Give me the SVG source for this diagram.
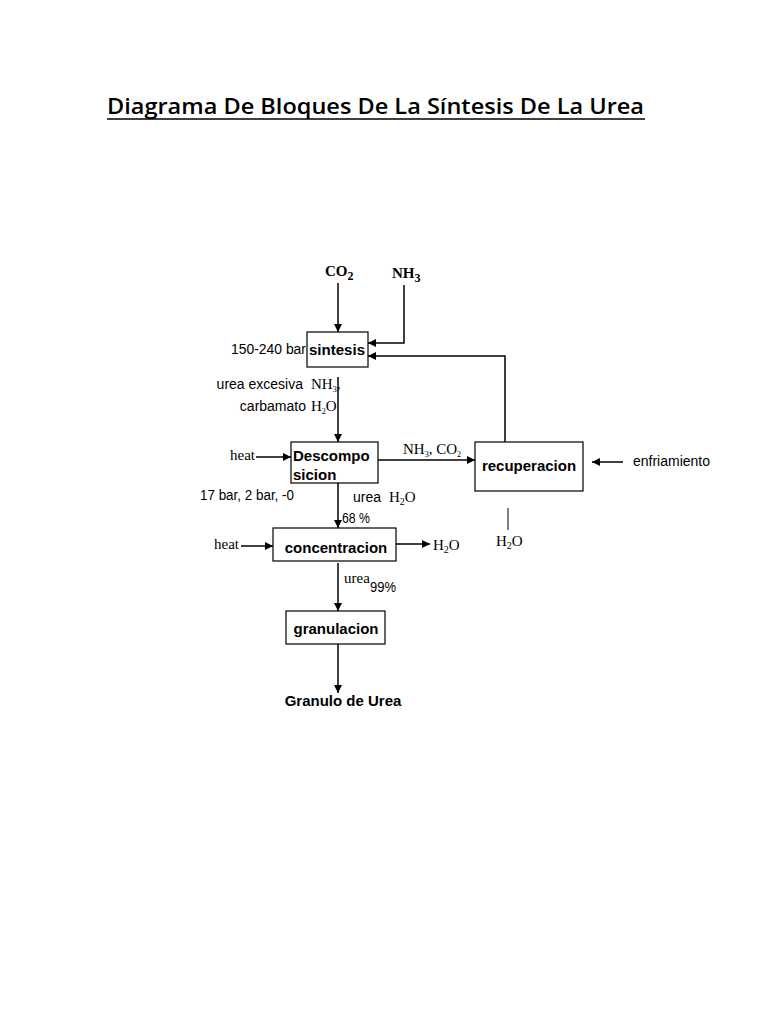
<svg xmlns="http://www.w3.org/2000/svg" width="768" height="1024" viewBox="0 0 768 1024">
<defs>
<marker id="ah" viewBox="0 0 10 10" refX="10" refY="5" markerWidth="8" markerHeight="8" markerUnits="userSpaceOnUse" orient="auto"><path d="M0,0 L10,5 L0,10 z" fill="#000"/></marker>
<style>
.box{fill:#fff;stroke:#000;stroke-width:1.2}
.lbl{font-family:"Liberation Sans",Arial,sans-serif;font-size:15px;font-weight:bold;fill:#000}
.s{font-family:"Liberation Sans",Arial,sans-serif;font-size:14px;fill:#000}
.t{font-family:"Liberation Serif","Times New Roman",serif;font-size:15px;fill:#000}
.con line,.con polyline{stroke:#000;stroke-width:1.5;fill:none}
</style>
</defs>
<rect width="768" height="1024" fill="#fff"/>
<text x="107" y="114" font-family="'Open Sans','Liberation Sans',sans-serif" font-size="22" font-weight="600" fill="#000" textLength="537" lengthAdjust="spacingAndGlyphs">Diagrama De Bloques De La Síntesis De La Urea</text>
<line x1="107" y1="119" x2="645" y2="119" stroke="#000" stroke-width="1.5"/>
<g class="con">
<line x1="338" y1="283" x2="338" y2="332" marker-end="url(#ah)"/>
<polyline points="404,285 404,343 368,343" marker-end="url(#ah)"/>
<polyline points="505,442 505,356 368,356" marker-end="url(#ah)"/>
<line x1="338" y1="377" x2="338" y2="442" marker-end="url(#ah)"/>
<line x1="256" y1="457" x2="291" y2="457" marker-end="url(#ah)"/>
<line x1="378" y1="460" x2="475" y2="460" marker-end="url(#ah)"/>
<line x1="623" y1="462" x2="592" y2="462" marker-end="url(#ah)"/>
<line x1="508" y1="508" x2="508" y2="530" style="stroke-width:1"/>
<line x1="338" y1="483" x2="338" y2="528" marker-end="url(#ah)"/>
<line x1="241" y1="546" x2="273" y2="546" marker-end="url(#ah)"/>
<line x1="396" y1="544" x2="430" y2="544" marker-end="url(#ah)"/>
<line x1="338" y1="563" x2="338" y2="611" marker-end="url(#ah)"/>
<line x1="338" y1="644" x2="338" y2="693" marker-end="url(#ah)"/>
</g>
<g id="sintesis"><rect class="box" x="307" y="332" width="61" height="35"/><text class="lbl" x="337" y="355" text-anchor="middle" textLength="56" lengthAdjust="spacingAndGlyphs">sintesis</text></g>
<g id="descomposicion"><rect class="box" x="291" y="442" width="87" height="41"/><text class="lbl" x="293" y="461">Descompo</text><text class="lbl" x="293" y="480">sicion</text></g>
<g id="recuperacion"><rect class="box" x="475" y="442" width="108" height="49"/><text class="lbl" x="529" y="471" text-anchor="middle">recuperacion</text></g>
<g id="concentracion"><rect class="box" x="273" y="528" width="123" height="33"/><text class="lbl" x="336" y="553" text-anchor="middle">concentracion</text></g>
<g id="granulacion"><rect class="box" x="286" y="611" width="99" height="33"/><text class="lbl" x="336" y="634" text-anchor="middle">granulacion</text></g>
<g id="texts">
<text class="t" x="325" y="276" font-size="19" font-weight="bold">CO<tspan font-size="12" dy="4">2</tspan></text>
<text class="t" x="392" y="278" font-size="19" font-weight="bold">NH<tspan font-size="12" dy="4">3</tspan></text>
<text class="s" x="231" y="354" font-size="16" textLength="75" lengthAdjust="spacingAndGlyphs">150-240 bar</text>
<text class="s" x="303" y="389" text-anchor="end">urea excesiva</text>
<text class="t" x="311" y="389" font-size="12" fill="#444">NH<tspan font-size="8" dy="3">3</tspan><tspan dy="-3">,</tspan></text>
<text class="s" x="306" y="411" text-anchor="end">carbamato</text>
<text class="t" x="311" y="411" font-size="12" fill="#444">H<tspan font-size="8" dy="3">2</tspan><tspan dy="-3">O</tspan></text>
<text class="t" x="230" y="460">heat</text>
<text class="t" x="403" y="454" font-size="12">NH<tspan font-size="8" dy="3">3</tspan><tspan dy="-3">, CO</tspan><tspan font-size="8" dy="3">2</tspan></text>
<text class="s" x="633" y="466">enfriamiento</text>
<text class="s" x="200" y="500" font-size="16" textLength="94" lengthAdjust="spacingAndGlyphs">17 bar, 2 bar, -0</text>
<text class="s" x="353" y="502">urea</text>
<text class="t" x="389" y="502" font-size="17">H<tspan font-size="10" dy="3">2</tspan><tspan dy="-3">O</tspan></text>
<text class="s" x="342" y="523" font-size="15" textLength="28" lengthAdjust="spacingAndGlyphs">68 %</text>
<text class="t" x="496" y="546" font-size="17">H<tspan font-size="10" dy="3">2</tspan><tspan dy="-3">O</tspan></text>
<text class="t" x="214" y="549">heat</text>
<text class="t" x="433" y="550" font-size="17">H<tspan font-size="10" dy="3">2</tspan><tspan dy="-3">O</tspan></text>
<text class="t" x="344" y="583" font-size="11">urea</text>
<text class="s" x="370" y="592" font-size="15" textLength="26" lengthAdjust="spacingAndGlyphs">99%</text>
<text class="lbl" x="343" y="706" text-anchor="middle">Granulo de Urea</text>
</g>
</svg>
